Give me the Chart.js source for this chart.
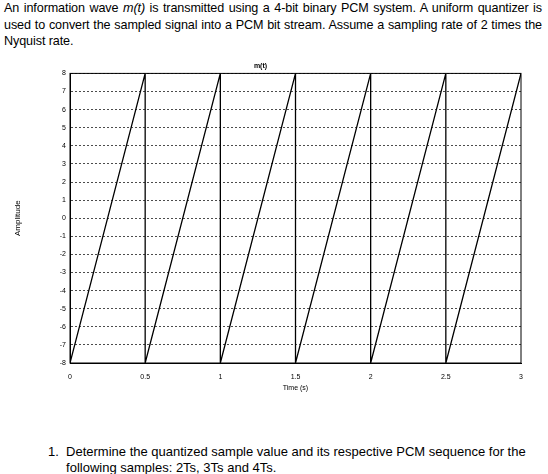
<!DOCTYPE html>
<html>
<head>
<meta charset="utf-8">
<script src="https://cdn.jsdelivr.net/npm/chart.js@4"></script>
<style>
  body { margin: 0; background: #fff; font-family: "Liberation Sans", Arial, sans-serif; color: #000; }
  #q { position: absolute; left: 4px; top: 0; width: 538px; font-size: 12.6px; line-height: 16.5px; text-align: justify; letter-spacing: -0.1px; }
  #wrap { position: absolute; left: 0; top: 58px; width: 548px; height: 338px; }
  #foot { position: absolute; left: 48px; top: 444px; width: 490px; font-size: 13px; line-height: 15.5px; }
</style>
</head>
<body>
<div id="q">An information wave <i>m(t)</i> is transmitted using a 4-bit binary PCM system. A uniform quantizer is used to convert the sampled signal into a PCM bit stream. Assume a sampling rate of 2 times the Nyquist rate.</div>
<div id="wrap"><canvas id="c"></canvas></div>
<div id="foot">1.&nbsp; Determine the quantized sample value and its respective PCM sequence for the<br>&nbsp;&nbsp;&nbsp;&nbsp; following samples: 2Ts, 3Ts and 4Ts.</div>
<script>
// sawtooth m(t): rises -8 -> 8 over each 0.5 s, then drops back
const times      = [0, 0.5, 0.5, 1, 1, 1.5, 1.5, 2, 2, 2.5, 2.5, 3];
const amplitudes = [-8, 8, -8, 8, -8, 8, -8, 8, -8, 8, -8, 8];
const xTicks = [0, 0.5, 1, 1.5, 2, 2.5, 3];
const yTicks = [-8, -7, -6, -5, -4, -3, -2, -1, 0, 1, 2, 3, 4, 5, 6, 7, 8];

const frame = {
  id: 'frame',
  afterDraw(chart) {
    const { ctx, chartArea: a } = chart;
    ctx.save();
    ctx.strokeStyle = '#000';
    ctx.lineWidth = 1;
    ctx.strokeRect(a.left, a.top, a.right - a.left, a.bottom - a.top);
    ctx.restore();
  }
};

const font = { family: 'Liberation Sans', size: 7 };

new Chart(document.getElementById('c'), {
  type: 'scatter',
  data: {
    datasets: [{
      data: times.map((t, i) => ({ x: t, y: amplitudes[i] })),
      showLine: true,
      borderColor: '#000',
      borderWidth: 1.3,
      pointRadius: 0,
      tension: 0
    }]
  },
  options: {
    responsive: true,
    maintainAspectRatio: false,
    animation: false,
    layout: { padding: { left: 0, right: 27, top: 0, bottom: 0 } },
    plugins: {
      legend: { display: false },
      tooltip: { enabled: false },
      title: { display: true, text: 'm(t)', color: '#000', font, padding: { top: 4, bottom: 3 } }
    },
    scales: {
      x: {
        type: 'linear', min: 0, max: 3,
        afterBuildTicks: (s) => { s.ticks = xTicks.map(v => ({ value: v })); },
        afterFit: (s) => { s.height = 33; },
        grid: { display: false },
        border: { color: '#000' },
        ticks: { color: '#000', font, maxRotation: 0, padding: 2, callback: (v) => String(v) },
        title: { display: true, text: 'Time (s)', color: '#000', font, padding: { top: 0, bottom: 4 } }
      },
      y: {
        min: -8, max: 8,
        afterBuildTicks: (s) => { s.ticks = yTicks.map(v => ({ value: v })); },
        afterFit: (s) => { s.width = 70; },
        grid: { color: '#000', lineWidth: 0.7, drawTicks: false },
        border: { color: '#000', dash: [2, 2] },
        ticks: { color: '#000', font, padding: 4 },
        title: { display: true, text: 'Amplitude', color: '#000', font: { family: 'Liberation Sans', size: 8 }, padding: { top: 13, bottom: 0 } }
      }
    }
  },
  plugins: [frame]
});
</script>
</body>
</html>
